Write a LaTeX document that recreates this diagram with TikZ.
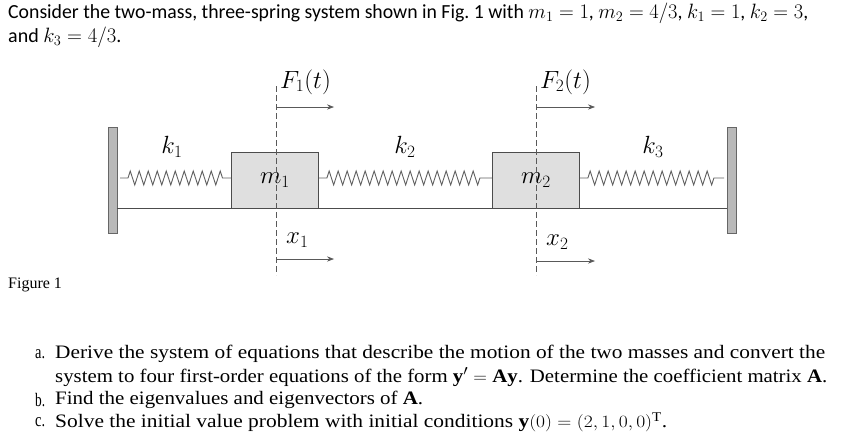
\documentclass[tikz,border=0pt]{standalone}
\usepackage{fontspec}
\setmainfont{Liberation Serif}
\newfontfamily\topfont{Carlito}
\usetikzlibrary{decorations.pathmorphing,arrows.meta}
\newcommand\fitw[2]{\resizebox{#1}{\height}{#2}}
\begin{document}
\begin{tikzpicture}[x=1pt,y=-1pt,
  txt/.style={anchor=west,inner sep=0pt},
  wall/.style={fill=gray!55,draw=gray!80!black},
  mass/.style={fill=gray!25,draw=gray!60!black,line width=0.8pt,minimum width=87pt,minimum height=56pt,inner sep=0pt,font=\fontsize{24}{24}\selectfont},
  spring/.style={draw=gray!75!black,line width=0.9pt,decorate,decoration={zigzag,segment length=9pt,amplitude=7pt,pre length=8pt,post length=8pt}},
  dline/.style={dash pattern=on 6pt off 3pt,gray!70!black,line width=0.6pt},
  farrow/.style={-{Stealth[length=7pt]},gray!70!black,line width=0.7pt},
  lab/.style={font=\fontsize{24}{24}\selectfont,inner sep=0pt}]
\useasboundingbox (0,0) rectangle (842,445);
% top text
\node[txt,font=\topfont\fontsize{20}{20}\selectfont] (t1) at (8,13) {\fitw{800pt}{Consider the two-mass, three-spring system shown in Fig.~1 with $m_1 = 1$, $m_2 = 4/3$, $k_1 = 1$, $k_2 = 3$,}};
\node[txt,font=\topfont\fontsize{20}{20}\selectfont] (t2) at (8,37) {and $k_3 = 4/3$.};
% walls and floor
\path[wall] (108,127) rectangle (117,233);
\path[wall] (727,127) rectangle (736,233);
\coordinate (fl) at (117,208);
\coordinate (fr) at (727,208);
\draw[gray!60!black,line width=0.9pt] (fl) -- (fr);
% masses
\node[mass] (m1) at (275,180) {$m_1$};
\node[mass] (m2) at (536,180) {$m_2$};
% springs
\coordinate (sl) at (120,178);
\coordinate (sr) at (724,178);
\draw[spring] (sl) -- (m1.west |- sl);
\draw[spring] (m1.east |- sl) -- (m2.west |- sl);
\draw[spring] (m2.east |- sl) -- (sr);
\node[lab] (k1) at (172,147) {$k_1$};
\node[lab] (k2) at (405,147) {$k_2$};
\node[lab] (k3) at (653,147) {$k_3$};
% dashed lines and arrows
\coordinate (d1t) at (276,86); \coordinate (d1b) at (276,275);
\coordinate (d2t) at (536,86); \coordinate (d2b) at (536,275);
\draw[dline] (d1t) -- (d1b);
\draw[dline] (d2t) -- (d2b);
\coordinate (f1a) at (277,107); \coordinate (f1b) at (334,107);
\coordinate (f2a) at (537,107); \coordinate (f2b) at (595,107);
\coordinate (x1a) at (277,259); \coordinate (x1b) at (334,259);
\coordinate (x2a) at (537,261); \coordinate (x2b) at (595,261);
\draw[farrow] (f1a) -- (f1b);
\draw[farrow] (f2a) -- (f2b);
\draw[farrow] (x1a) -- (x1b);
\draw[farrow] (x2a) -- (x2b);
\node[lab,anchor=west] (F1) at (280,82) {$F_1(t)$};
\node[lab,anchor=west] (F2) at (540,82) {$F_2(t)$};
\node[lab,anchor=west] (X1) at (286,240) {$x_1$};
\node[lab,anchor=west] (X2) at (546,242) {$x_2$};
% figure label
\node[txt,font=\fontsize{16}{16}\selectfont] (fig) at (8,285) {Figure 1};
% questions
\begin{scope}[every node/.style={txt,font=\fontsize{19}{19}\selectfont}]
\node (qa) at (35,354) {\fitw{10pt}{a.}};
\node (a1) at (55,354) {\fitw{770pt}{Derive the system of equations that describe the motion of the two masses and convert the}};
\node (a2) at (55,377) {\fitw{772pt}{system to four first-order equations of the form $\mathbf{y}' = \mathbf{A}\mathbf{y}$. Determine the coefficient matrix $\mathbf{A}$.}};
\node (qb) at (35,400) {\fitw{10pt}{b.}};
\node (b1) at (55,400) {\fitw{368pt}{Find the eigenvalues and eigenvectors of $\mathbf{A}$.}};
\node (qc) at (35,422) {\fitw{10pt}{c.}};
\node (c1) at (55,422) {\fitw{612pt}{Solve the initial value problem with initial conditions $\mathbf{y}(0) = (2, 1, 0, 0)^{\mathrm{T}}$.}};
\end{scope}
\end{tikzpicture}
\end{document}
